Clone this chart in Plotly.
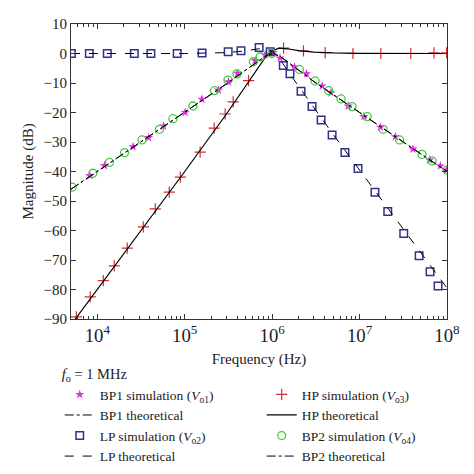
import plotly.graph_objects as go

# ---- data ----
bp1_sim_f = [8.2e3, 1.21e4, 2.56e4, 3.86e4, 5.72e4, 1.01e5, 1.57e5, 2.43e5, 3.17e5, 4.0e5, 6.4e5, 8.3e5,
             1.02e6, 1.23e6, 1.8e6, 2.47e6, 3.73e6, 4.72e6, 7.4e6, 1.12e7, 1.73e7, 2.57e7, 4.08e7, 6.34e7, 8.4e7, 9.9e7]
bp1_sim_db = [-41.4, -38.0, -31.6, -28.5, -24.6, -20.0, -15.5, -12.4, -9.6, -6.7, -2.4, -0.5,
              0.3, -1.5, -4.6, -6.9, -11.0, -13.3, -17.8, -21.4, -25.0, -28.2, -32.4, -36.1, -38.1, -39.5]

bp2_sim_f = [5.14e3, 8.9e3, 1.38e4, 2.05e4, 3.24e4, 5.15e4, 7.33e4, 1.24e5, 2.19e5, 3.12e5, 3.95e5, 6.1e5, 7.3e5,
             9.9e5, 2.05e6, 3.1e6, 4.44e6, 6.15e6, 8.2e6, 1.22e7, 1.86e7, 2.87e7, 5.18e7, 6.74e7, 1.0e8]
bp2_sim_db = [-45.3, -40.6, -36.9, -33.6, -29.3, -25.7, -22.1, -17.8, -12.6, -9.0, -6.9, -2.8, -1.1,
              0.0, -5.4, -9.3, -12.6, -15.4, -18.0, -21.4, -25.7, -29.3, -34.2, -36.4, -39.5]

bp_theo_f = [5e3, 1e4, 3e4, 1e5, 3e5, 5e5, 7e5, 8.5e5, 1e6, 1.2e6, 1.5e6, 2e6, 3e6, 1e7, 3e7, 1e8]
bp_theo_db = [-46.0, -40.0, -30.5, -20.0, -10.3, -5.6, -2.6, -0.8, 0.0, -0.8, -2.8, -5.5, -9.5, -20.0, -29.5, -40.0]

lp_sim_f = [5.05e3, 8.1e3, 1.3e4, 2.65e4, 4.1e4, 8.2e4, 1.58e5, 3.14e5, 4.4e5, 7.1e5, 9.5e5,
            1.34e6, 1.6e6, 2.14e6, 2.86e6, 3.63e6, 4.85e6, 6.8e6, 9.6e6, 1.5e7, 2.1e7, 3.2e7, 4.8e7, 6.4e7, 7.9e7]
lp_sim_db = [0.0, 0.0, 0.0, 0.0, 0.0, 0.0, 0.2, 0.6, 0.9, 2.0, 0.6,
             -4.1, -6.9, -12.8, -18.0, -22.5, -27.6, -33.6, -39.0, -47.0, -53.6, -61.0, -68.6, -74.0, -78.8]

lp_theo_f = [5e3, 1e5, 3e5, 5e5, 7e5, 8.5e5, 1e6, 1.3e6, 1.6e6, 2e6, 3e6, 5e6, 1e7, 2e7, 5e7, 1e8]
lp_theo_db = [0.0, 0.0, 0.3, 0.9, 1.6, 1.6, 0.8, -3.0, -7.0, -11.0, -18.5, -27.5, -39.5, -51.5, -67.5, -79.5]

hp_sim_f = [5.75e3, 8.3e3, 1.17e4, 1.56e4, 2.2e4, 3.36e4, 4.6e4, 6.65e4, 8.9e4, 1.5e5, 2.17e5, 2.9e5, 3.58e5,
            5.37e5, 1.35e6, 2.28e6, 4.04e6, 8.4e6, 1.75e7, 3.85e7, 7.1e7, 9.9e7]
hp_sim_db = [-89.3, -82.5, -77.0, -72.0, -66.0, -58.8, -52.7, -47.0, -41.9, -33.4, -25.3, -20.5, -16.4,
             -9.2, 1.8, 0.9, 0.3, 0.0, 0.0, 0.0, 0.2, 0.2]

hp_theo_f = [5e3, 1e4, 1e5, 3e5, 5e5, 7e5, 8.5e5, 1e6, 1.2e6, 1.5e6, 2e6, 3e6, 5e6, 1e7, 1e8]
hp_theo_db = [-92.0, -80.0, -40.0, -20.5, -11.0, -4.5, -1.0, 0.9, 1.8, 1.6, 1.0, 0.5, 0.2, 0.05, 0.0]

legend_title = "<i>f</i><sub>o</sub> = 1 MHz"
x_title = "Frequency (Hz)"
y_title = "Magnitude (dB)"

FONT = "Liberation Serif"
TXT = "#222222"

fig = go.Figure()

# order chosen so a two-column horizontal legend reads like the reference
fig.add_trace(go.Scatter(x=bp1_sim_f, y=bp1_sim_db, mode="markers", name="BP1 simulation (<i>V</i><sub>o1</sub>)",
                         marker=dict(symbol="star", size=7, color="#e030e0", line=dict(width=0))))
fig.add_trace(go.Scatter(x=hp_sim_f, y=hp_sim_db, mode="markers", name="HP simulation (<i>V</i><sub>o3</sub>)",
                         marker=dict(symbol="cross-thin-open", size=8, color="#d03030", line=dict(width=1.2))))
fig.add_trace(go.Scatter(x=bp_theo_f, y=bp_theo_db, mode="lines", name="BP1 theoretical",
                         line=dict(color="black", width=1, dash="dashdot")))
fig.add_trace(go.Scatter(x=hp_theo_f, y=hp_theo_db, mode="lines", name="HP theoretical",
                         line=dict(color="black", width=1.2)))
fig.add_trace(go.Scatter(x=lp_sim_f, y=lp_sim_db, mode="markers", name="LP simulation (<i>V</i><sub>o2</sub>)",
                         marker=dict(symbol="square-open", size=7.5, color="#303090", line=dict(width=1.5))))
fig.add_trace(go.Scatter(x=bp2_sim_f, y=bp2_sim_db, mode="markers", name="BP2 simulation (<i>V</i><sub>o4</sub>)",
                         marker=dict(symbol="circle-open", size=8, color="#40cc40", line=dict(width=1.3))))
fig.add_trace(go.Scatter(x=lp_theo_f, y=lp_theo_db, mode="lines", name="LP theoretical",
                         line=dict(color="black", width=1, dash="dash")))
fig.add_trace(go.Scatter(x=bp_theo_f, y=bp_theo_db, mode="lines", name="BP2 theoretical",
                         line=dict(color="black", width=1, dash="dashdot")))

axis_common = dict(showline=True, linecolor="#333333", linewidth=1.2, mirror="allticks",
                   ticks="inside", ticklen=5, tickcolor="#333333", showgrid=False, zeroline=False,
                   tickfont=dict(family=FONT, size=15, color=TXT), automargin=False)

fig.update_xaxes(type="log", range=[3.69897, 8], dtick=1, exponentformat="power",
                 minor=dict(ticks="inside", ticklen=3, tickcolor="#333333", showgrid=False),
                 title=dict(text=x_title, font=dict(family=FONT, size=15, color=TXT), standoff=8),
                 **axis_common)
fig.update_yaxes(range=[-90, 10], dtick=10,
                 title=dict(text=y_title, font=dict(family=FONT, size=15, color=TXT), standoff=6),
                 **axis_common)

fig.update_layout(
    width=474, height=474,
    margin=dict(l=71, r=27, t=24, b=155, autoexpand=False),
    plot_bgcolor="white", paper_bgcolor="white",
    font=dict(family=FONT, size=14, color=TXT),
    legend=dict(orientation="h", x=-0.03, xanchor="left", y=-0.14, yanchor="top",
                entrywidth=157, entrywidthmode="pixels", tracegroupgap=0,
                title=dict(text=legend_title, side="top", font=dict(family=FONT, size=14.5)),
                font=dict(family=FONT, size=13.5, color=TXT),
                bgcolor="rgba(0,0,0,0)", itemwidth=30),
)

fig.write_html("out.html", config={"displayModeBar": False},
               post_script="document.body.style.margin='0';")
